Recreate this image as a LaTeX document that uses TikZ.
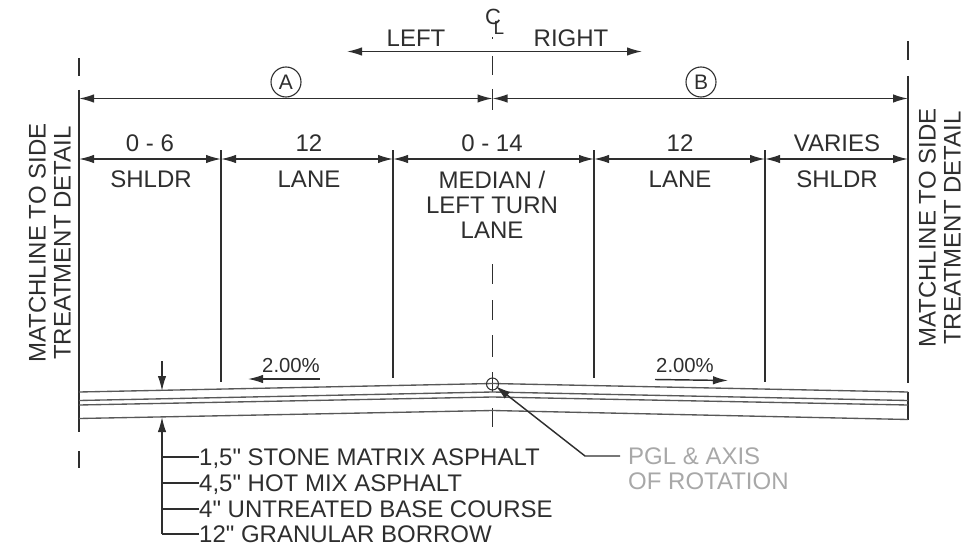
\documentclass[tikz,border=0pt]{standalone}
\usepackage{fontspec}
\setmainfont{Liberation Sans}
\newfontfamily\plainfont{Liberation Sans}
\usetikzlibrary{arrows.meta}
\definecolor{ink}{HTML}{2E2E2E}
\definecolor{pale}{HTML}{A8A8A8}
\tikzset{
 x=1pt,y=-1pt,
 lab/.style={inner sep=0pt,text height=17pt,text depth=0pt,text=ink,font=\plainfont\fontsize{24}{26}\selectfont},
 small/.style={inner sep=0pt,text height=14.5pt,text depth=0pt,text=ink,font=\plainfont\fontsize{20.3}{22}\selectfont},
 ring/.style={circle,draw=ink,line width=1.1pt,minimum size=30pt,inner sep=0pt,text=ink,font=\plainfont\fontsize{21}{24}\selectfont},
 line/.style={draw=ink,line width=1.45pt},
 road/.style={draw=ink!80,line width=1.35pt},
 dim/.style={line,{Latex[length=15pt,width=8.5pt]}-{Latex[length=15pt,width=8.5pt]}},
 oneway/.style={line,-{Latex[length=15pt,width=8.5pt]}},
}
\begin{document}
\begin{tikzpicture}
\useasboundingbox (0,0) rectangle (975,551);
% reference coordinates
\foreach \n/\x in {a/79,b/221,c/393,d/492.5,e/594,f/765,g/908}{
  \coordinate (\n98) at (\x,98.5);
  \coordinate (\n159) at (\x,159);
}
% centre line and matchlines
\draw[line] (79,58) -- (79,76);
\draw[line] (79,90) -- (79,432);
\draw[line] (79,451) -- (79,468);
\draw[line] (908,41) -- (908,60);
\draw[line] (908,76) -- (908,383);
\draw[line] (908,392) -- (908,420);
\draw[line] (492.5,37) -- (492.5,39);
\draw[line] (492.5,56) -- (492.5,75);
\draw[line] (492.5,89) -- (492.5,110);
\draw[line] (492.5,264) -- (492.5,284);
\draw[line] (492.5,300) -- (492.5,320);
\draw[line] (492.5,335) -- (492.5,357);
\draw[line] (492.5,372) -- (492.5,392);
\draw[line] (492.5,408) -- (492.5,427);
% lane ticks
\draw[line] (221,150) -- (221,382);
\draw[line] (393,150) -- (393,378);
\draw[line] (594,150) -- (594,378);
\draw[line] (765,150) -- (765,382);
% dimensions
\coordinate (lrA) at (347,51.5); \coordinate (lrB) at (642,51.5);
\draw[dim] (lrA) -- (lrB);
\draw[dim] (a98) -- (d98);
\draw[dim] (d98) -- (g98);
\draw[dim] (a159) -- (b159);
\draw[dim] (b159) -- (c159);
\draw[dim] (c159) -- (e159);
\draw[dim] (e159) -- (f159);
\draw[dim] (f159) -- (g159);
% road section
\draw[road] (79,392) -- (492.5,383.5) -- (908,392);
\draw[road] (79,400.5) -- (492.5,392) -- (908,400.5);
\draw[road] (79,405) -- (492.5,397) -- (908,405);
\draw[road] (79,418.5) -- (492.5,410.5) -- (908,419.5);
% rotation axis
\node[circle,draw=ink,line width=1pt,minimum size=12pt,inner sep=0pt] (axis) at (492.5,384) {};
% texts
\node[lab] (lLeft) at (416,38) {LEFT};
\node[lab] (lRight) at (571,38) {RIGHT};
\node[inner sep=0pt,text=ink,font=\plainfont\fontsize{22}{24}\selectfont] (clC) at (493,17) {C};
\node[inner sep=0pt,text=ink,font=\plainfont\fontsize{19}{20}\selectfont] (clL) at (499,28) {L};
\node[ring] (cA) at (286,82) {A};
\node[ring] (cB) at (701,82) {B};
\node[lab] (d1) at (150,143) {0 - 6};
\node[lab] (d2) at (309,143) {12};
\node[lab] (d3) at (492,143) {0 - 14};
\node[lab] (d4) at (680,143) {12};
\node[lab] (d5) at (837,143) {VARIES};
\node[lab] (s1) at (151,179) {SHLDR};
\node[lab] (l1) at (309,179) {LANE};
\node[lab] (m1) at (492,180) {MEDIAN /};
\node[lab] (m2) at (492,205) {LEFT TURN};
\node[lab] (m3) at (492,230) {LANE};
\node[lab] (l2) at (680,179) {LANE};
\node[lab] (s2) at (837,179) {SHLDR};
\node[lab,rotate=90] (ml1) at (37,243) {MATCHLINE TO SIDE};
\node[lab,rotate=90] (ml2) at (62,243) {TREATMENT DETAIL};
\node[lab,rotate=90] (mr1) at (927,228) {MATCHLINE TO SIDE};
\node[lab,rotate=90] (mr2) at (952,228) {TREATMENT DETAIL};
\node[small] (p1) at (291,365) {2.00\%};
\node[small] (p2) at (685,365) {2.00\%};
\node[lab,anchor=west] (t1) at (199,457) {1,5" STONE MATRIX ASPHALT};
\node[lab,anchor=west] (t2) at (199,483) {4,5" HOT MIX ASPHALT};
\node[lab,anchor=west] (t3) at (199,509) {4" UNTREATED BASE COURSE};
\node[lab,anchor=west] (t4) at (199,534) {12" GRANULAR BORROW};
\node[lab,anchor=west,text=pale] (g1) at (628,456) {PGL \& AXIS};
\node[lab,anchor=west,text=pale] (g2) at (628,481) {OF ROTATION};
% slope arrows
\coordinate (sa) at (320,379); \coordinate (sb) at (248,379);
\coordinate (sc) at (655,379.5); \coordinate (sd) at (728,380.5);
\draw[oneway] (sa) -- (sb);
\draw[oneway] (sc) -- (sd);
% thickness arrows and leaders
\coordinate (th1) at (162,361); \coordinate (th2) at (162,391);
\coordinate (th3) at (162,534); \coordinate (th4) at (162,417);
\draw[oneway] (th1) -- (th2);
\draw[oneway] (th3) -- (th4);
\coordinate (b1) at (162,457); \coordinate (b2) at (162,483); \coordinate (b3) at (162,509);
\draw[line] (b1) -- (t1.west);
\draw[line] (b2) -- (t2.west);
\draw[line] (b3) -- (t3.west);
\draw[line] (th3) -- (t4.west);
% axis leader
\coordinate (k) at (585,456);
\coordinate (ke) at (620,456);
\draw[line,{Latex[length=15pt,width=8.5pt]}-] (axis.center) ++(3,2) -- (k) -- (ke);
\end{tikzpicture}
\end{document}
